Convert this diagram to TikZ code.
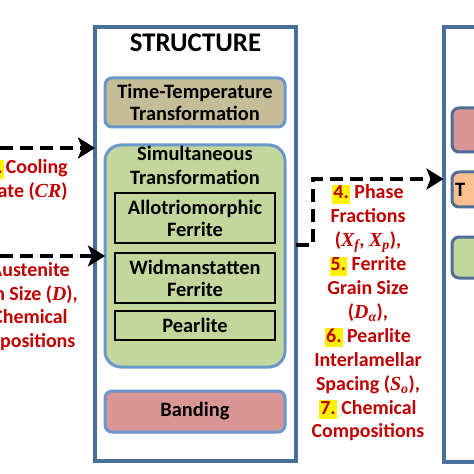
\documentclass[tikz,border=0pt]{standalone}
\usepackage{fontspec}
\setmainfont{Carlito}
\newfontfamily\mif{Liberation Serif}
\usetikzlibrary{arrows.meta}
\definecolor{outerblue}{HTML}{4A6F9A}
\definecolor{innerblue}{HTML}{6A97CC}
\definecolor{rbord}{HTML}{4F6E95}
\definecolor{tanfill}{HTML}{C4BD97}
\definecolor{greenfill}{HTML}{C3D69B}
\definecolor{pinkfill}{HTML}{D99694}
\definecolor{orangefill}{HTML}{FAC090}
\definecolor{darkred}{HTML}{C00000}
\newcommand\hlnum[1]{{\setlength{\fboxsep}{1bp}\colorbox{yellow}{\rule[-4bp]{0pt}{16bp}#1}}}
\newcommand\mv[1]{{\mif\bfseries\itshape #1}}
\newcommand\msub[2]{{\mif\bfseries\itshape #1\textsubscript{#2}}}
\tikzset{
  outerbox/.style={draw=outerblue, line width=4bp, outer sep=0pt},
  rbox/.style={draw=innerblue, line width=3bp, rounded corners=7bp, outer sep=0pt, align=center,
    font=\bfseries\fontsize{20.5}{22}\selectfont},
  blackbox/.style={draw=black, line width=2.2bp, outer sep=0pt, align=center,
    font=\bfseries\fontsize{20.5}{22}\selectfont},
  rightbox/.style={draw=rbord, line width=3bp, rounded corners=7bp, outer sep=0pt},
  redtext/.style={text=darkred, align=center, font=\bfseries\fontsize{20}{24}\selectfont},
  darrow/.style={line width=4bp, dash pattern=on 13bp off 7bp,
    -{Stealth[length=17bp,width=21bp,inset=4bp]}}
}
\begin{document}
\begin{tikzpicture}[x=1bp,y=-1bp]
\useasboundingbox (0,0) rectangle (474,474);
\clip (0,0) rectangle (474,474);
\fill[white] (0,0) rectangle (474,474);
% structure column
\node[outerbox, minimum width=201bp, minimum height=434bp] (S) at (195.5,244) {};
\node[font=\bfseries\fontsize{27}{30}\selectfont] (title) at (195.5,43) {STRUCTURE};
\node[rbox, fill=tanfill, minimum width=180bp, minimum height=49bp] (tt) at (195,102.5) {Time-Temperature\\Transformation};
\node[rbox, fill=greenfill, rounded corners=16bp, minimum width=180bp, minimum height=222bp] (sim) at (195,256) {};
\node[align=center, font=\bfseries\fontsize{20.5}{24}\selectfont] (simt) at (195,165) {Simultaneous\\Transformation};
\node[blackbox, minimum width=160bp, minimum height=50bp] (allo) at (195,218) {Allotriomorphic\\Ferrite};
\node[blackbox, minimum width=160bp, minimum height=50bp] (wid) at (195,278) {Widmanstatten\\Ferrite};
\node[blackbox, minimum width=160bp, minimum height=29bp] (pearl) at (195,325.5) {Pearlite};
\node[rbox, fill=pinkfill, minimum width=180bp, minimum height=41bp] (band) at (195,411.5) {Banding};
% right column
\node[outerbox, minimum width=93bp, minimum height=435bp] (R) at (490,244.5) {};
\node[rightbox, fill=pinkfill, minimum width=76bp, minimum height=44bp] (rp) at (490,130) {};
\node[rightbox, fill=orangefill, minimum width=76bp, minimum height=35bp] (ro) at (490,189.5) {};
\node[anchor=west, font=\bfseries\fontsize{20.5}{22}\selectfont, inner sep=0pt] (rot) at (455,190) {T};
\node[rightbox, fill=greenfill, minimum width=76bp, minimum height=41bp] (rg) at (490,257.5) {};
% left labels
\node[redtext] (l1) at (27,180) {\hlnum{1.}\hspace{2bp}Cooling\\Rate (\mv{CR})};
\node[redtext] (l2) at (19,306.5) {\hlnum{2.} Austenite\\Grain Size (\mv{D}),\\\hlnum{3.} Chemical\\Compositions};
% right labels
\node[redtext] (r1) at (368,313) {\hlnum{4.} Phase\\Fractions\\(\msub{X}{f}, \msub{X}{p}),\\\hlnum{5.} Ferrite\\Grain Size\\(\msub{D}{α}),\\\hlnum{6.} Pearlite\\Interlamellar\\Spacing (\msub{S}{o}),\\\hlnum{7.} Chemical\\Compositions};
% arrows
\coordinate (a1) at (0,148);
\coordinate (a2) at (0,256);
\draw[darrow] (a1) -- (a1 -| S.west);
\draw[darrow] (a2) -- (a2 -| sim.west);
\coordinate (b1) at (313,245);
\coordinate (b2) at (313,179);
\draw[darrow] (S.east |- b1) -- (b1) -- (b2) -- (b2 -| R.west);
\end{tikzpicture}
\end{document}
